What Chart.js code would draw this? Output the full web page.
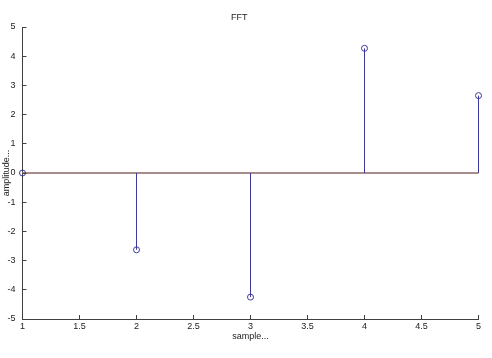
<!DOCTYPE html>
<html><head><meta charset="utf-8">
<script src="https://cdn.jsdelivr.net/npm/chart.js@4/dist/chart.umd.min.js"></script>
<style>html,body{margin:0;padding:0;background:#fff}#wrap{width:492px;height:358px}</style>
</head><body><div id="wrap"><canvas id="c" width="492" height="358"></canvas></div>
<script>
const samples = [1, 2, 3, 4, 5];
const amplitudes = [0, -2.63, -4.25, 4.27, 2.65];
const xTicks = [1, 1.5, 2, 2.5, 3, 3.5, 4, 4.5, 5];
const yTicks = [-5, -4, -3, -2, -1, 0, 1, 2, 3, 4, 5];

const stemColor = '#3d3a9e';
const axisColor = '#404040';
const FONT = 'Liberation Sans, Arial, sans-serif';

const stemData = [];
samples.forEach((x, i) => { stemData.push({x, y: 0}, {x, y: amplitudes[i]}, {x, y: null}); });
const markerData = samples.map((x, i) => ({x, y: amplitudes[i]}));
const baseData = [{x: samples[0], y: 0}, {x: samples[samples.length - 1], y: 0}];

const innerTicks = {
  id: 'innerTicks',
  afterDatasetsDraw(chart) {
    const {ctx, chartArea: a, scales: {x, y}} = chart;
    ctx.save();
    ctx.strokeStyle = axisColor;
    ctx.lineWidth = 1;
    ctx.beginPath();
    xTicks.forEach(v => { const px = Math.floor(x.getPixelForValue(v)) + 0.5; ctx.moveTo(px, a.bottom); ctx.lineTo(px, a.bottom - 4); });
    yTicks.forEach(v => { const py = Math.floor(y.getPixelForValue(v)) + 0.5; ctx.moveTo(a.left, py); ctx.lineTo(a.left + 4, py); });
    ctx.stroke();
    ctx.restore();
  }
};

new Chart(document.getElementById('c'), {
  type: 'scatter',
  data: {
    datasets: [
      {type: 'line', data: markerData, showLine: false, pointStyle: 'circle', pointRadius: 3, pointBorderWidth: 1, clip: false,
       borderColor: stemColor, pointBorderColor: stemColor, pointBackgroundColor: 'rgba(255,255,255,0)', order: 0},
      {type: 'line', data: stemData, spanGaps: false, clip: false, borderColor: stemColor, borderWidth: 1, borderDash: [2000, 0.0001], pointRadius: 0, order: 1},
      {type: 'line', data: baseData, clip: false, borderColor: '#a88c8c', borderWidth: 2, pointRadius: 0, order: 2}
    ]
  },
  options: {
    responsive: false,
    animation: false,
    devicePixelRatio: 1,
    layout: {padding: {left: 0, right: 13.5, top: 0, bottom: 0}},
    plugins: {
      legend: {display: false},
      tooltip: {enabled: false},
      title: {display: true, text: 'FFT', color: '#222', font: {family: FONT, size: 9, weight: 'normal'}, padding: {top: 12, bottom: 4.2}}
    },
    scales: {
      x: {
        type: 'linear', min: 1, max: 5,
        afterBuildTicks: s => { s.ticks = xTicks.map(v => ({value: v})); },
        afterFit: s => { s.height = 39; },
        grid: {display: true, drawOnChartArea: false, drawTicks: false},
        border: {display: true, color: axisColor, width: 1},
        ticks: {color: '#222', padding: 2, maxRotation: 0, autoSkip: false, font: {family: FONT, size: 9}, callback: v => String(v)},
        title: {display: true, text: 'sample...', color: '#222', font: {family: FONT, size: 9}, padding: {top: 0, bottom: 16}}
      },
      y: {
        type: 'linear', min: -5, max: 5,
        afterBuildTicks: s => { s.ticks = yTicks.map(v => ({value: v})); },
        afterFit: s => { s.width = 22.5; },
        grid: {display: true, drawOnChartArea: false, drawTicks: false},
        border: {display: true, color: axisColor, width: 1},
        ticks: {color: '#222', padding: 7, autoSkip: false, font: {family: FONT, size: 9}, callback: v => String(v)},
        title: {display: true, text: 'amplitude...', color: '#222', font: {family: FONT, size: 9}, padding: {top: 1, bottom: 0}}
      }
    }
  },
  plugins: [innerTicks]
});
</script>
</body></html>
